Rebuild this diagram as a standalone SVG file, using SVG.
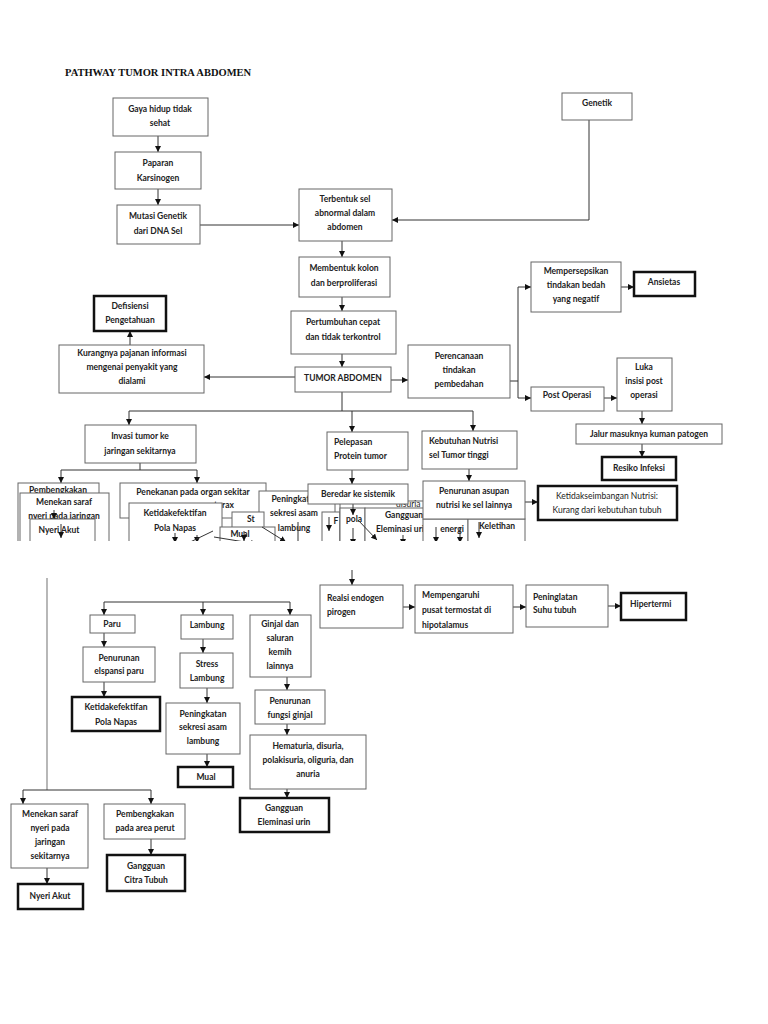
<svg xmlns="http://www.w3.org/2000/svg" width="768" height="1024" viewBox="0 0 768 1024">
<style>
.b{fill:#fff;stroke:#666;stroke-width:1}
.k{fill:#fff;stroke:#111;stroke-width:2.5}
text{font-family:Lato,"Open Sans","Liberation Sans",sans-serif;font-size:8.5px;font-weight:bold;fill:#222;text-anchor:middle}
.l{text-anchor:start}
.ttl{font-family:"Liberation Serif",serif;font-size:10.5px;font-weight:bold;text-anchor:start;fill:#111}
.c{stroke:#333;stroke-width:1;fill:none;marker-end:url(#a)}
.p{stroke:#333;stroke-width:1;fill:none}
.g{stroke:#888;stroke-width:1.2;fill:none}
</style>
<defs>
<marker id="a" viewBox="0 0 10 10" refX="10" refY="5" markerWidth="6" markerHeight="6" orient="auto" markerUnits="userSpaceOnUse"><path d="M0,0L10,5L0,10z" fill="#111"/></marker>
<clipPath id="clip"><rect x="0" y="470" width="768" height="71"/></clipPath>
</defs>
<rect width="768" height="1024" fill="#fff"/>
<text class="ttl" x="65" y="76">PATHWAY TUMOR INTRA ABDOMEN</text>

<g id="connectors">
<path class="c" d="M158,136V152"/>
<path class="c" d="M158,189V205"/>
<path class="c" d="M200,225H299"/>
<path class="c" d="M589,120V220H392"/>
<path class="c" d="M342,241V257"/>
<path class="c" d="M342,297V311"/>
<path class="c" d="M342,354V367"/>
<path class="c" d="M295,377H204"/>
<path class="c" d="M130,345V331"/>
<path class="c" d="M391,380H408"/>
<path class="p" d="M510,381H518"/>
<path class="c" d="M518,381V287H531"/>
<path class="c" d="M518,381V398H531"/>
<path class="c" d="M621,287H634"/>
<path class="c" d="M604,398H617"/>
<path class="c" d="M642,411V424"/>
<path class="c" d="M642,444V457"/>
<path class="p" d="M342,392V411"/>
<path class="c" d="M129,411H473V431"/>
<path class="c" d="M129,411V425"/>
<path class="c" d="M352,411V432"/>
<path class="c" d="M352,470V484"/>
<path class="c" d="M469,469V481"/>
<path class="c" d="M525,502H538"/>
<path class="p" d="M140,463V470"/>
<path class="c" d="M61,470H197V483"/>
<path class="c" d="M61,470V483"/>

<path class="c" d="M352,570V585"/>
<path class="c" d="M403,607H415"/>
<path class="c" d="M513,607H526"/>
<path class="c" d="M608,606H621"/>
<path class="c" d="M104,602H290V615"/>
<path class="c" d="M104,602V615"/>
<path class="c" d="M203,602V615"/>
<path class="c" d="M104,633V647"/>
<path class="c" d="M104,682V697"/>
<path class="c" d="M203,639V653"/>
<path class="c" d="M207,688V703"/>
<path class="c" d="M207,754V767"/>
<path class="c" d="M287,677V690"/>
<path class="c" d="M287,724V735"/>
<path class="c" d="M287,789V798"/>
<path class="g" d="M47,578V790"/>
<path class="c" d="M23,790H151V804"/>
<path class="c" d="M23,790V804"/>
<path class="c" d="M47,868V884"/>
<path class="c" d="M151,839V855"/>
</g>

<g id="n-gaya"><rect class="b" x="113" y="98" width="95" height="38"/><text x="160" y="112">Gaya hidup tidak</text><text x="160" y="126">sehat</text></g>
<g id="n-paparan"><rect class="b" x="115" y="152" width="86" height="37"/><text x="158" y="166">Paparan</text><text x="158" y="181">Karsinogen</text></g>
<g id="n-mutasi"><rect class="b" x="117" y="205" width="83" height="39"/><text x="158" y="219">Mutasi Genetik</text><text x="158" y="234">dari DNA Sel</text></g>
<g id="n-genetik"><rect class="b" x="562" y="93" width="70" height="27"/><text x="597" y="106">Genetik</text></g>
<g id="n-terbentuk"><rect class="b" x="299" y="189" width="93" height="52"/><text x="345" y="202">Terbentuk sel</text><text x="345" y="216">abnormal dalam</text><text x="345" y="230">abdomen</text></g>
<g id="n-membentuk"><rect class="b" x="299" y="257" width="91" height="40"/><text x="344" y="271">Membentuk kolon</text><text x="344" y="286">dan berproliferasi</text></g>
<g id="n-pertumbuhan"><rect class="b" x="291" y="311" width="105" height="43"/><text x="343" y="325">Pertumbuhan cepat</text><text x="343" y="340">dan tidak terkontrol</text></g>
<g id="n-tumor"><rect class="b" x="295" y="367" width="96" height="25"/><text x="343" y="381">TUMOR ABDOMEN</text></g>
<g id="n-kurangnya"><rect class="b" x="59" y="345" width="145" height="48"/><text x="132" y="356">Kurangnya pajanan informasi</text><text x="132" y="370">mengenai penyakit yang</text><text x="132" y="384">dialami</text></g>
<g id="n-defisiensi"><rect class="k" x="94" y="296" width="72" height="35"/><text x="130" y="309">Defisiensi</text><text x="130" y="323">Pengetahuan</text></g>
<g id="n-perencanaan"><rect class="b" x="408" y="345" width="102" height="53"/><text x="459" y="359">Perencanaan</text><text x="459" y="373">tindakan</text><text x="459" y="387">pembedahan</text></g>
<g id="n-mempersepsikan"><rect class="b" x="531" y="262" width="90" height="50"/><text x="576" y="274">Mempersepsikan</text><text x="576" y="288">tindakan bedah</text><text x="576" y="302">yang negatif</text></g>
<g id="n-ansietas"><rect class="k" x="634" y="272" width="61" height="24"/><text x="664" y="285">Ansietas</text></g>
<g id="n-postop"><rect class="b" x="531" y="387" width="73" height="24"/><text x="567" y="398">Post Operasi</text></g>
<g id="n-luka"><rect class="b" x="617" y="358" width="55" height="53"/><text x="644" y="370">Luka</text><text x="644" y="384">insisi post</text><text x="644" y="398">operasi</text></g>
<g id="n-jalur"><rect class="b" x="576" y="424" width="146" height="20"/><text x="649" y="437">Jalur masuknya kuman patogen</text></g>
<g id="n-resiko"><rect class="k" x="602" y="457" width="74" height="23"/><text x="639" y="471">Resiko Infeksi</text></g>
<g id="n-invasi"><rect class="b" x="85" y="425" width="111" height="38"/><text x="140" y="439">Invasi tumor ke</text><text x="140" y="454">jaringan sekitarnya</text></g>
<g id="n-pelepasan"><rect class="b" x="327" y="432" width="81" height="38"/><text class="l" x="334" y="445">Pelepasan</text><text class="l" x="334" y="459">Protein tumor</text></g>
<g id="n-kebutuhan"><rect class="b" x="422" y="431" width="95" height="38"/><text class="l" x="429" y="444">Kebutuhan Nutrisi</text><text class="l" x="429" y="458">sel Tumor tinggi</text></g>
<g id="n-ketidakseimbangan"><rect class="k" x="538" y="486" width="139" height="34"/><text x="607" y="499" style="font-weight:normal">Ketidakseimbangan Nutrisi:</text><text x="607" y="513" style="font-weight:normal">Kurang dari kebutuhan tubuh</text></g>

<g id="overlap" clip-path="url(#clip)">
<rect class="b" x="18" y="483" width="81" height="70"/><text x="58" y="493">Pembengkakan</text>
<rect class="b" x="20" y="493" width="89" height="60"/><text x="64" y="505">Menekan saraf</text><text x="64" y="519">nyeri pada jaringan</text>
<rect class="b" x="30" y="519" width="65" height="30"/><text x="59" y="533">Nyeri Akut</text>
<path class="c" d="M54,510V519"/><path class="c" d="M61,524V538"/>
<rect class="b" x="120" y="483" width="146" height="35"/><text x="193" y="495">Penekanan pada organ sekitar</text><text class="l" x="214" y="508">torax</text>
<rect class="b" x="259" y="491" width="76" height="60"/><text x="295" y="502">Peningkatan</text><text x="294" y="516">sekresi asam</text><text x="294" y="531">lambung</text>
<rect class="b" x="232" y="512" width="32" height="40"/><text class="l" x="247" y="522">St</text>
<rect class="b" x="129" y="503" width="93" height="50"/><text x="175" y="516">Ketidakefektifan</text><text x="175" y="531">Pola Napas</text>
<rect class="b" x="220" y="527" width="55" height="25"/><text x="240" y="537">Mual</text>
<path class="c" d="M175,533V543"/><path class="c" d="M197,535V543"/>
<path class="c" d="M213,531L182,546"/><path class="c" d="M214,537L257,544"/>
<path class="c" d="M244,531V541"/><path class="c" d="M262,527L286,542"/>
<path class="p" d="M298,522V545"/>
<rect class="b" x="322" y="512" width="18" height="40"/><text x="336" y="524">F</text>
<path class="c" d="M329,517V531"/>
<rect class="b" x="340" y="501" width="85" height="50"/><text class="l" x="396" y="507" style="font-weight:normal">disuria</text>
<rect class="b" x="340" y="508" width="25" height="45"/><text x="354" y="522">pola</text>
<rect class="b" x="365" y="508" width="60" height="45"/><text x="404" y="518">Gangguan</text><text x="400" y="532">Eleminasi uri</text>
<path class="c" d="M353,504V515"/><path class="c" d="M358,520L377,540"/>
<path class="c" d="M353,528V545"/><path class="c" d="M403,535V545"/>
<rect class="b" x="308" y="484" width="100" height="20"/><text x="358" y="497">Beredar ke sistemik</text>
<rect class="b" x="423" y="519" width="45" height="30"/><text x="452" y="532">energi</text>
<rect class="b" x="468" y="519" width="57" height="30"/><text x="497" y="529">Keletihan</text>
<path class="c" d="M436,527V543"/><path class="c" d="M460,527V543"/><path class="c" d="M479,522V538"/>
<rect class="b" x="423" y="481" width="102" height="38"/><text x="474" y="494">Penurunan asupan</text><text x="474" y="508">nutrisi ke sel lainnya</text>
</g>

<g id="n-reaksi"><rect class="b" x="320" y="585" width="83" height="43"/><text class="l" x="327" y="601">Realsi endogen</text><text class="l" x="327" y="615">pirogen</text></g>
<g id="n-mempengaruhi"><rect class="b" x="415" y="585" width="98" height="48"/><text class="l" x="422" y="598">Mempengaruhi</text><text class="l" x="422" y="613">pusat termostat di</text><text class="l" x="422" y="628">hipotalamus</text></g>
<g id="n-suhu"><rect class="b" x="526" y="585" width="82" height="42"/><text class="l" x="533" y="600">Peninglatan</text><text class="l" x="533" y="613">Suhu tubuh</text></g>
<g id="n-hipertermi"><rect class="k" x="621" y="593" width="65" height="27"/><text class="l" x="630" y="607">Hipertermi</text></g>
<g id="n-paru"><rect class="b" x="90" y="615" width="45" height="18"/><text x="112" y="627">Paru</text></g>
<g id="n-elspansi"><rect class="b" x="83" y="647" width="72" height="35"/><text x="119" y="661">Penurunan</text><text x="119" y="674">elspansi paru</text></g>
<g id="n-ketidakefektifan"><rect class="k" x="72" y="697" width="88" height="34"/><text x="116" y="710">Ketidakefektifan</text><text x="116" y="725">Pola Napas</text></g>
<g id="n-lambung"><rect class="b" x="181" y="615" width="52" height="24"/><text x="207" y="628">Lambung</text></g>
<g id="n-stress"><rect class="b" x="180" y="653" width="53" height="35"/><text x="207" y="667">Stress</text><text x="207" y="681">Lambung</text></g>
<g id="n-asam"><rect class="b" x="166" y="703" width="74" height="51"/><text x="203" y="717">Peningkatan</text><text x="203" y="730">sekresi asam</text><text x="203" y="744">lambung</text></g>
<g id="n-mual"><rect class="k" x="178" y="767" width="55" height="20"/><text x="206" y="780">Mual</text></g>
<g id="n-ginjal"><rect class="b" x="250" y="615" width="61" height="62"/><text x="280" y="627">Ginjal dan</text><text x="280" y="641">saluran</text><text x="280" y="655">kemih</text><text x="280" y="669">lainnya</text></g>
<g id="n-fungsi"><rect class="b" x="255" y="690" width="70" height="34"/><text x="290" y="704">Penurunan</text><text x="290" y="718">fungsi ginjal</text></g>
<g id="n-hematuria"><rect class="b" x="250" y="735" width="116" height="54"/><text x="308" y="749">Hematuria, disuria,</text><text x="308" y="763">polakisuria, oliguria, dan</text><text x="308" y="777">anuria</text></g>
<g id="n-eleminasi"><rect class="k" x="240" y="798" width="89" height="34"/><text x="284" y="811">Gangguan</text><text x="284" y="825">Eleminasi urin</text></g>
<g id="n-menekan"><rect class="b" x="11" y="804" width="77" height="64"/><text x="50" y="817">Menekan saraf</text><text x="50" y="831">nyeri pada</text><text x="50" y="845">jaringan</text><text x="50" y="859">sekitarnya</text></g>
<g id="n-pembengkakan"><rect class="b" x="104" y="804" width="81" height="35"/><text x="145" y="817">Pembengkakan</text><text x="145" y="831">pada area perut</text></g>
<g id="n-nyeri"><rect class="k" x="18" y="884" width="65" height="25"/><text x="50" y="899">Nyeri Akut</text></g>
<g id="n-citra"><rect class="k" x="107" y="855" width="78" height="36"/><text x="146" y="869">Gangguan</text><text x="146" y="883">Citra Tubuh</text></g>
</svg>
